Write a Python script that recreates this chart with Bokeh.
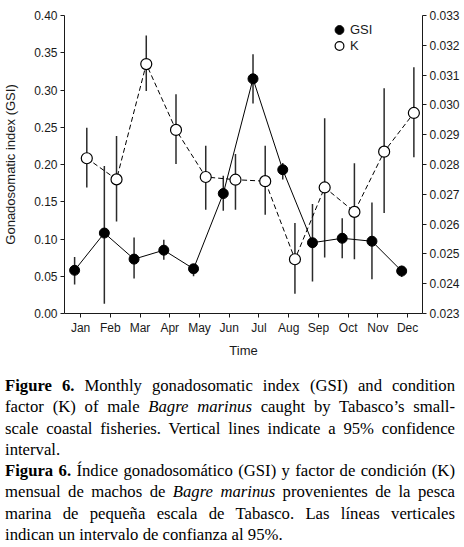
from bokeh.plotting import figure
from bokeh.layouts import column
from bokeh.models import (ColumnDataSource, Range1d, LinearAxis, FixedTicker,
                          NumeralTickFormatter, Legend, LegendItem, Div)
from bokeh.transform import dodge
from bokeh.embed import file_html
from bokeh.resources import INLINE

months = ["Jan", "Feb", "Mar", "Apr", "May", "Jun",
          "Jul", "Aug", "Sep", "Oct", "Nov", "Dec"]

# gonadosomatic index, with 95% confidence limits
gsi = [0.058, 0.108, 0.073, 0.085, 0.060, 0.161, 0.315, 0.193, 0.095, 0.101, 0.097, 0.057]
gsi_lo = [0.039, 0.013, 0.047, 0.072, 0.050, 0.138, 0.282, 0.180, 0.043, 0.074, 0.046, 0.049]
gsi_hi = [0.076, 0.198, 0.102, 0.099, 0.064, 0.185, 0.348, 0.202, 0.147, 0.128, 0.149, 0.064]

# condition factor, with 95% confidence limits
k = [0.02821, 0.02750, 0.03137, 0.02916, 0.02758, 0.02749, 0.02744, 0.02482, 0.02723, 0.02641, 0.02843, 0.02973]
k_lo = [0.02723, 0.02609, 0.03047, 0.02802, 0.02648, 0.02648, 0.02631, 0.02366, 0.02488, 0.02482, 0.02637, 0.02824]
k_hi = [0.02923, 0.02896, 0.03233, 0.03036, 0.02863, 0.02835, 0.02863, 0.02604, 0.02955, 0.02804, 0.03056, 0.03126]

gsi_ticks = [0.0, 0.05, 0.10, 0.15, 0.20, 0.25, 0.30, 0.35, 0.40]
k_ticks = [0.023, 0.024, 0.025, 0.026, 0.027, 0.028, 0.029, 0.030, 0.031, 0.032, 0.033]

caption_en = ["<b>Figure 6.</b> Monthly gonadosomatic index (GSI) and condition",
              "factor (K) of male <i>Bagre marinus</i> caught by Tabasco\u2019s small-",
              "scale coastal fisheries. Vertical lines indicate a 95% confidence",
              "interval."]
caption_es = ["<b>Figura 6.</b> \u00cdndice gonadosom\u00e1tico (GSI) y factor de condici\u00f3n (K)",
              "mensual de machos de <i>Bagre marinus</i> provenientes de la pesca",
              "marina de peque\u00f1a escala de Tabasco. Las l\u00edneas verticales",
              "indican un intervalo de confianza al 95%."]

FONT = "Liberation Sans"
INK = "#1a1a1a"

src = ColumnDataSource(dict(m=[i + 1 for i in range(len(months))],
                            gsi=gsi, gsi_lo=gsi_lo, gsi_hi=gsi_hi,
                            k=k, k_lo=k_lo, k_hi=k_hi))

p = figure(width=462, height=360,
           x_range=Range1d(0.46, 12.5), y_range=Range1d(0, 0.40),
           output_backend="svg", toolbar_location=None,
           min_border_left=63, min_border_right=39,
           min_border_top=15, min_border_bottom=45)
p.extra_y_ranges = {"k": Range1d(start=0.023, end=0.033)}
p.grid.visible = False
p.outline_line_color = None
p.background_fill_color = "white"

gx = dodge("m", -0.2)
kx = dodge("m", 0.21)

# error bars
p.segment(x0=gx, x1=gx, y0="gsi_lo", y1="gsi_hi", source=src,
          line_color="#2b2b2b", line_width=1.5)
p.segment(x0=kx, x1=kx, y0="k_lo", y1="k_hi", source=src,
          line_color="#2b2b2b", line_width=1.5, y_range_name="k")

p.line(x=kx, y="k", source=src, line_color="black", line_width=1,
       line_dash="5 3", y_range_name="k")
p.line(x=gx, y="gsi", source=src, line_color="black", line_width=1)

kr = p.scatter(x=kx, y="k", source=src, size=11, fill_color="white",
               line_color="black", line_width=1.2, y_range_name="k")
gr = p.scatter(x=gx, y="gsi", source=src, size=10, fill_color="black",
               line_color="black")

# axes
p.xaxis.ticker = FixedTicker(ticks=list(range(1, len(months) + 1)))
p.xaxis.major_label_overrides = {i + 1: m for i, m in enumerate(months)}
p.xaxis.axis_label = "Time"
p.yaxis.ticker = FixedTicker(ticks=gsi_ticks)
p.yaxis.formatter = NumeralTickFormatter(format="0.00")
p.yaxis.axis_label = "Gonadosomatic index (GSI)"

kaxis = LinearAxis(y_range_name="k", ticker=FixedTicker(ticks=k_ticks),
                   formatter=NumeralTickFormatter(format="0.000"))
p.add_layout(kaxis, "right")

for ax in p.axis:
    ax.axis_line_color = INK
    ax.major_tick_line_color = INK
    ax.minor_tick_line_color = None
    ax.major_tick_in = 0
    ax.major_tick_out = 4
    ax.major_label_text_font = FONT
    ax.major_label_text_font_size = "12px"
    ax.major_label_text_color = INK
    ax.major_label_standoff = 3
    ax.axis_label_text_font = FONT
    ax.axis_label_text_font_size = "13px"
    ax.axis_label_text_font_style = "normal"
    ax.axis_label_text_color = INK
p.yaxis.axis_label_standoff = 13

# one small legend per series, stacked tightly like the original key
leg_style = dict(padding=0, margin=0, glyph_width=22, glyph_height=25,
                 label_standoff=0, label_text_font=FONT,
                 label_text_font_size="13px", label_text_color=INK,
                 border_line_alpha=0, background_fill_alpha=0)
p.add_layout(Legend(items=[LegendItem(label="GSI", renderers=[gr])],
                    location=(264, 271), **leg_style))
p.add_layout(Legend(items=[LegendItem(label="K", renderers=[kr])],
                    location=(264, 255), **leg_style))

line_css = "text-align:justify;text-align-last:justify;"
last_css = "text-align:left;"


def para(lines):
    out = []
    for i, ln in enumerate(lines):
        css = last_css if i == len(lines) - 1 else line_css
        out.append('<div style="%s">%s</div>' % (css, ln))
    return "".join(out)


html = ('<div style="font-family:\'Liberation Serif\';font-size:16.7px;'
        'line-height:21.3px;color:#000;width:450px;">'
        + para(caption_en) + para(caption_es) + '</div>')
cap = Div(text=html, width=450, margin=(15, 0, 0, 5))

layout = column(p, cap)
open("out.html", "w").write(file_html(layout, INLINE))
